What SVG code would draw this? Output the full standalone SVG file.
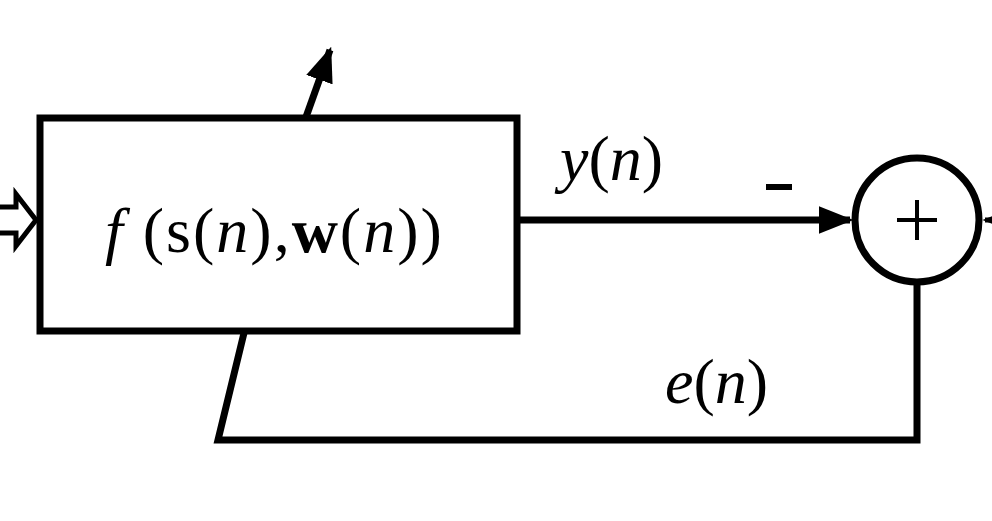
<svg xmlns="http://www.w3.org/2000/svg" width="992" height="521" viewBox="0 0 992 521">
<style>
.l{stroke:#000;stroke-width:7;fill:none}
.t{font-family:"Liberation Serif","Times New Roman","DejaVu Serif",serif;font-size:64px;fill:#000}
</style>
<defs><marker id="a" markerWidth="5" markerHeight="4" refX="4.5" refY="2" orient="auto" markerUnits="strokeWidth"><path d="M0,0 L5,2 L0,4 Z"/></marker></defs>
<rect width="992" height="521" fill="#fff"/>
<g id="box"><rect x="40" y="118" width="477" height="213" class="l"/>
<text x="105" y="252" class="t" letter-spacing="2"><tspan font-style="italic">f</tspan> (s(<tspan font-style="italic">n</tspan>),<tspan font-weight="bold">w</tspan>(<tspan font-style="italic">n</tspan>))</text></g>
<g id="sum"><circle cx="917" cy="220" r="62" class="l"/>
<path d="M897,220 H937 M917,200 V240" stroke="#000" stroke-width="4"/></g>
<g id="connectors">
<path d="M0,207 H16 V194 L36,220 L16,246 V233 H0" stroke="#000" stroke-width="5" fill="#fff"/>
<path d="M306,117 L330,50" class="l" stroke-width="5" marker-end="url(#a)"/>
<path d="M517,220 H850" class="l" stroke-width="5" marker-end="url(#a)"/>
<path d="M917,282 V440 H218 L244,333" class="l"/>
<path d="M992,220 L985,220" stroke="#000" stroke-width="5" marker-end="url(#a)"/>
<path d="M766,187 H792" stroke="#000" stroke-width="6"/>
</g>
<text x="560" y="180" class="t"><tspan font-style="italic">y</tspan>(<tspan font-style="italic">n</tspan>)</text>
<text x="665" y="403" class="t"><tspan font-style="italic">e</tspan>(<tspan font-style="italic">n</tspan>)</text>
</svg>
